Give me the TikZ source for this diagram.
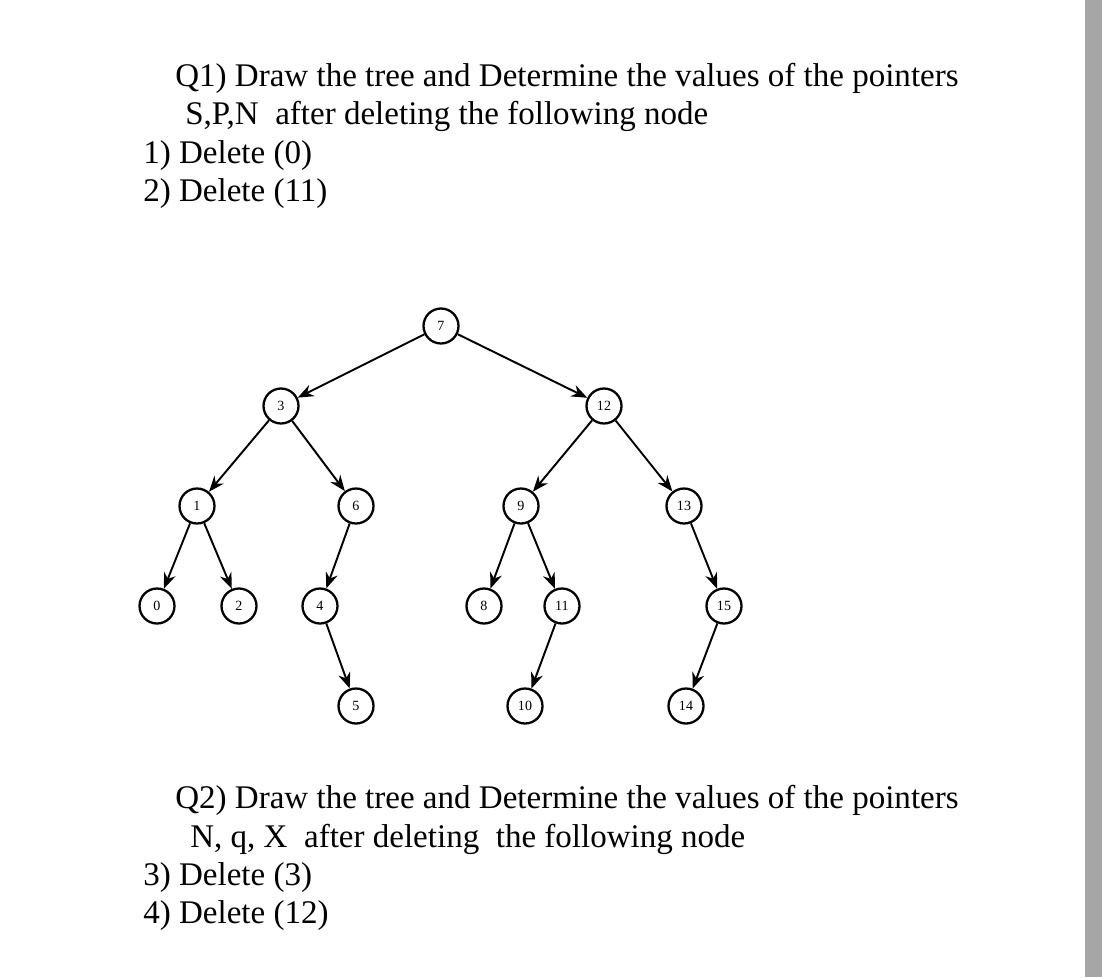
\documentclass[tikz,border=0pt]{standalone}
\usepackage{fontspec}
\setmainfont{Liberation Serif}
\usetikzlibrary{arrows.meta}
\begin{document}
\begin{tikzpicture}[x=0.02cm,y=-0.02cm,
  tn/.style={circle,draw,line width=1.3pt,minimum size=0.7cm,inner sep=0pt,font=\fontsize{8}{9}\selectfont},
  ed/.style={line width=1.1pt,-{Stealth[length=9pt,width=7pt]}},
  txt/.style={anchor=west,inner sep=0pt,font=\fontsize{18.8}{21}\selectfont}]
\useasboundingbox (0,0) rectangle (1102,977);
\fill[gray!70] (1085,0) rectangle (1102,977);
\node[txt] (t1) at (175,78) {Q1) Draw the tree and Determine the values of the pointers};
\node[txt] (t2) at (185,116) {S,P,N\ \ after deleting the following node};
\node[txt] (t3) at (143,156) {1) Delete (0)};
\node[txt] (t4) at (143,194) {2) Delete (11)};
\node[txt] (t5) at (175,800) {Q2) Draw the tree and Determine the values of the pointers};
\node[txt] (t6) at (190,839) {N, q, X\ \ after deleting\ \ the following node};
\node[txt] (t7) at (143,878) {3) Delete (3)};
\node[txt] (t8) at (143,916) {4) Delete (12)};
\node[tn] (n7) at (441,326) {7};
\node[tn] (n3) at (281,406) {3};
\node[tn] (n12) at (604,406) {12};
\node[tn] (n1) at (197,506) {1};
\node[tn] (n6) at (356,506) {6};
\node[tn] (n9) at (521,506) {9};
\node[tn] (n13) at (684,506) {13};
\node[tn] (n0) at (157,606) {0};
\node[tn] (n2) at (239,606) {2};
\node[tn] (n4) at (320,606) {4};
\node[tn] (n8) at (484,606) {8};
\node[tn] (n11) at (562,606) {11};
\node[tn] (n15) at (724,606) {15};
\node[tn] (n5) at (356,706) {5};
\node[tn] (n10) at (525,706) {10};
\node[tn] (n14) at (686,706) {14};
\foreach \a/\b in {n7/n3,n7/n12,n3/n1,n3/n6,n12/n9,n12/n13,n1/n0,n1/n2,n6/n4,n9/n8,n9/n11,n13/n15,n4/n5,n11/n10,n15/n14}
  \draw[ed] (\a) -- (\b);
\end{tikzpicture}
\end{document}
